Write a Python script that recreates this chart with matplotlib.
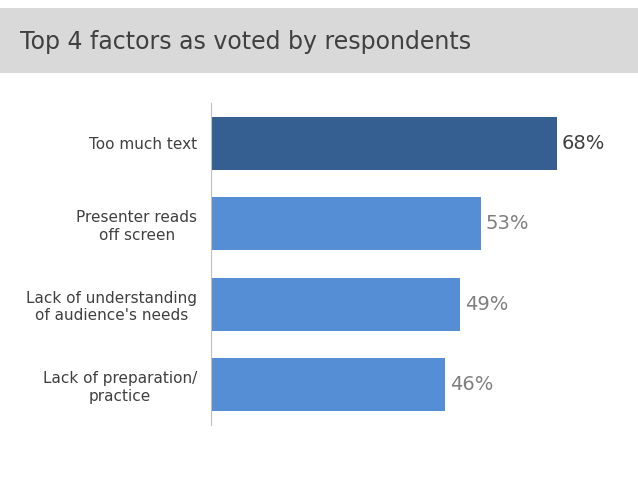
import numpy as np
import matplotlib.pyplot as plt
from matplotlib.patches import Rectangle

categories = ["Too much text", "Presenter reads\noff screen",
              "Lack of understanding\nof audience's needs", "Lack of preparation/\npractice"]
values = [68, 53, 49, 46]
bar_colors = ["#355F91", "#558ED5", "#558ED5", "#558ED5"]
label_colors = ["#404040", "#7F7F7F", "#7F7F7F", "#7F7F7F"]

fig = plt.figure(figsize=(6.38, 4.78), dpi=100)

# grey title band
fig.patches.append(Rectangle((0, 0.847), 1, 0.136, transform=fig.transFigure,
                             facecolor="#D9D9D9", edgecolor="none", zorder=0))
fig.text(0.031, 0.913, "Top 4 factors as voted by respondents", fontsize=17,
         color="#404040", va="center", ha="left")

ax = fig.add_axes([0.3307, 0.1109, 0.638, 0.6736])
y = np.arange(len(categories))
ax.barh(y, values, height=0.66, color=bar_colors)
ax.set_ylim(3.5, -0.5)
ax.set_xlim(0, 80)

for yi, v, c in zip(y, values, label_colors):
    ax.text(v + 1, yi, f"{v}%", va="center", ha="left", fontsize=14, color=c)

ax.set_yticks(y)
ax.set_yticklabels(categories, fontsize=11, color="#404040", ha="right",
                   multialignment="center")
ax.tick_params(axis="y", length=0, pad=10)
ax.set_xticks([])
for s in ["top", "right", "bottom"]:
    ax.spines[s].set_visible(False)
ax.spines["left"].set_color("#BFBFBF")

fig.savefig("out.png", dpi=100)
